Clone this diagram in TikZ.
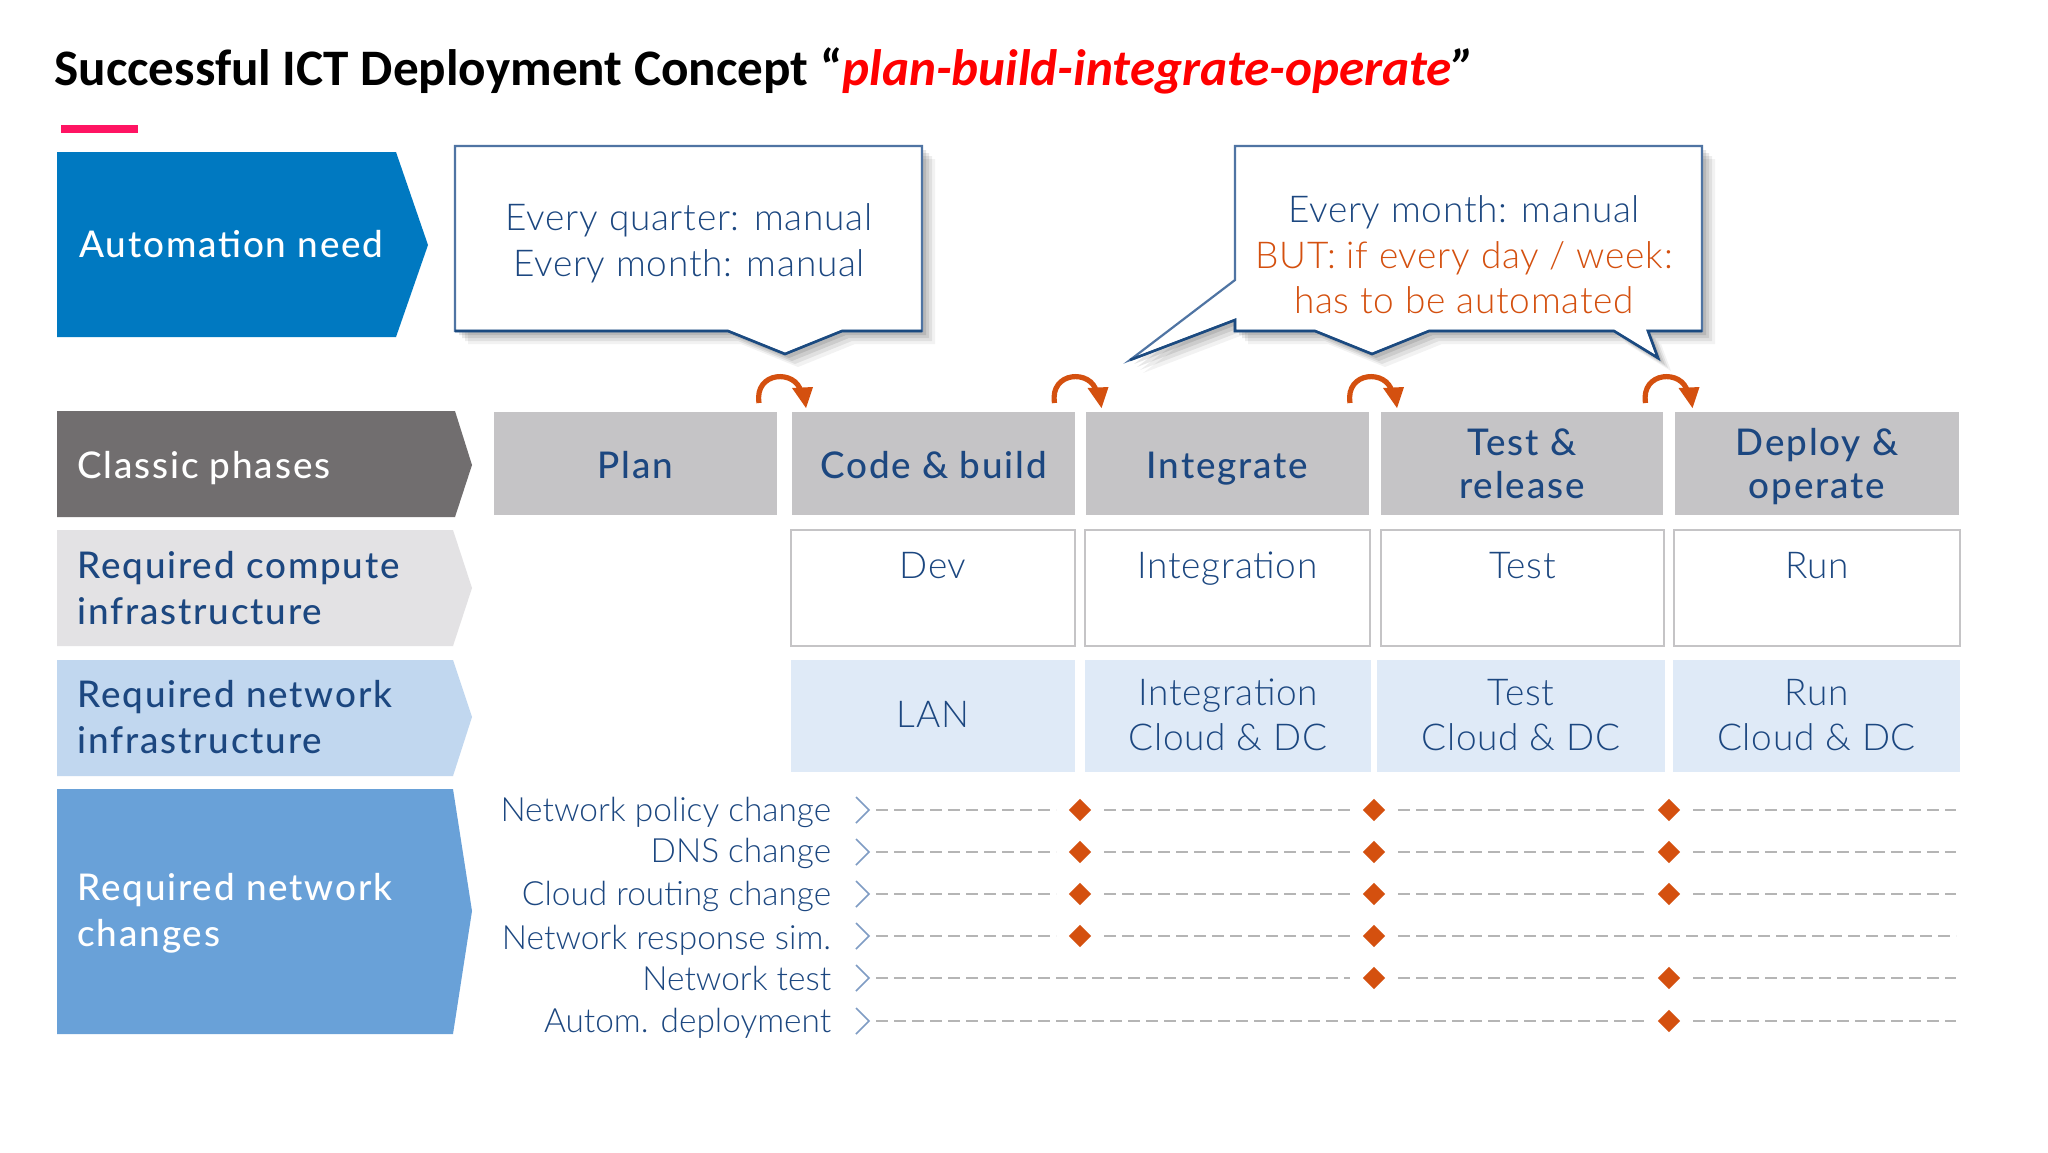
\documentclass[tikz,border=0pt]{standalone}
\usepackage{fontspec}
\usetikzlibrary{shapes.geometric}
\setmainfont{Lato}
\newfontfamily\titlef{Carlito}
\newfontfamily\lightf[LetterSpace=2]{Lato Light}
\newfontfamily\lightr{Lato Light}
\newfontfamily\medf[LetterSpace=5]{Lato Medium}
\definecolor{navy}{HTML}{1C4780}
\definecolor{autoc}{HTML}{0079C1}
\definecolor{classicc}{HTML}{716E6F}
\definecolor{compc}{HTML}{E3E2E4}
\definecolor{netc}{HTML}{C1D7EF}
\definecolor{chgc}{HTML}{69A1D8}
\definecolor{phasec}{HTML}{C5C4C6}
\definecolor{lightb}{HTML}{DFEAF7}
\definecolor{org}{HTML}{D4500F}
\definecolor{pinkbar}{HTML}{FF1463}
\definecolor{calloutc}{HTML}{4F74A3}
\definecolor{calloutd}{HTML}{1B4A80}
\definecolor{dashc}{HTML}{B5B5B5}
\definecolor{chevc}{HTML}{7F9CC4}
\tikzset{
 x=0.5pt,y=-0.5pt,
 lbl/.style={inner sep=0pt,anchor=base west,align=left,font=\medf\fontsize{18.4}{23}\selectfont,text=navy},
 lblw/.style={lbl,text=white},
 cell/.style={inner sep=0pt,anchor=base,align=center,font=\lightf\fontsize{18.5}{22.75}\selectfont,text=navy},
 cellm/.style={cell,font=\medf\fontsize{18.4}{21.5}\selectfont},
 rowl/.style={inner sep=0pt,anchor=base east,font=\lightr\fontsize{16.7}{20}\selectfont,text=navy},
 dia/.style={shape=diamond,aspect=1,fill=org,inner sep=0pt,minimum width=14.9pt,minimum height=14.9pt,outer sep=4.55pt},
 chev/.style={inner sep=0pt,minimum width=1pt,minimum height=1pt},
 dashline/.style={draw=dashc,line width=1pt,dash pattern=on 6pt off 3pt},
 cbord/.style={draw=calloutc,line width=1.1pt,line join=miter},
 cdark/.style={draw=calloutd,line width=1.3pt},
}
\begin{document}
\begin{tikzpicture}
\useasboundingbox (0,0) rectangle (2048,1152);
\fill[white] (0,0) rectangle (2048,1152);
% title
\node[inner sep=0pt,anchor=base west] (title) at (54,85) {\titlef\bfseries\fontsize{25.6}{30}\selectfont Successful ICT Deployment Concept “\textcolor{red}{\itshape plan-build-integrate-operate}{\itshape ”}};
\fill[pinkbar] (61,125) rectangle (138,133);
% left chevrons
\fill[autoc] (57,152) -- (396,152) -- (428,245) -- (396,337) -- (57,337) -- cycle;
\fill[classicc] (57,411) -- (455,411) -- (472,465) -- (455,517) -- (57,517) -- cycle;
\fill[compc] (57,530) -- (453,530) -- (472,588) -- (453,646) -- (57,646) -- cycle;
\fill[netc] (57,660) -- (453,660) -- (472,717) -- (453,776) -- (57,776) -- cycle;
\fill[chgc] (57,789) -- (453,789) -- (472,911) -- (453,1034) -- (57,1034) -- cycle;
\node[lblw] (lauto) at (79,257) {Automation need};
\node[lblw] (lclassic) at (77,478) {Classic phases};
\node[lbl] (lcomp) at (77,624) {Required compute\\infrastructure};
\node[lbl] (lnet) at (77,753) {Required network\\infrastructure};
\node[lblw] (lchg) at (77,946) {Required network\\changes};
% callout shadows
\foreach \d/\o in {4/.10,7/.09,10/.07,13/.05}{
 \fill[black,opacity=\o,shift={(\d,\d)}] (455,146) -- (922,146) -- (922,331) -- (842,331) -- (785,354) -- (728,331) -- (455,331) -- cycle;
 \fill[black,opacity=\o,shift={(\d,\d)}] (1235,146) -- (1702,146) -- (1702,331) -- (1648,331) -- (1658,358) -- (1614,331) -- (1429,331) -- (1372,354) -- (1315,331) -- (1235,331) -- (1235,320) -- (1130,360) -- (1235,280) -- cycle;
}
% callouts
\filldraw[fill=white,cbord] (455,146) -- (922,146) -- (922,331) -- (842,331) -- (785,354) -- (728,331) -- (455,331) -- cycle;
\draw[cdark] (455,331) -- (728,331) -- (785,354) -- (842,331) -- (922,331);
\filldraw[fill=white,cbord] (1235,146) -- (1702,146) -- (1702,331) -- (1648,331) -- (1658,358) -- (1614,331) -- (1429,331) -- (1372,354) -- (1315,331) -- (1235,331) -- (1235,320) -- (1130,360) -- (1235,280) -- cycle;
\draw[cdark] (1130,360) -- (1235,320) -- (1235,331) -- (1315,331) -- (1372,354) -- (1429,331) -- (1614,331) -- (1658,358) -- (1648,331) -- (1702,331);
\node[cell] (c1) at (689,276) {Every quarter: manual\\Every month: manual};
\node[cell] (c2) at (1464,313.5) {Every month: manual\\\textcolor{org}{BUT: if every day / week:}\\\textcolor{org}{has to be automated}};
% curved arrows
\foreach \x in {0,295.5,591,886.5}{
 \begin{scope}[xshift=\x*0.5pt]
 \draw[org,line width=2.6pt] (759,403) .. controls (754,371) and (796,369) .. (801,392);
 \fill[org] (792,388) -- (813,387) -- (806,408) -- cycle;
 \end{scope}
}
% phases
\foreach \n/\a/\b/\t/\yy in {plan/494/777/Plan/478,code/792/1075/Code \& build/478,integ/1086/1369/Integrate/478,test/1381/1663/Test \&\\release/498.5,depl/1675/1959/Deploy \&\\operate/498.5}{
 \fill[phasec] (\a,412) rectangle (\b,515);
 \node[cellm] (p\n) at ({(\a+\b)/2},\yy) {\t};
}
% compute
\foreach \n/\a/\b/\t in {dev/791/1075/Dev,inte/1085/1370/Integration,tst/1381/1664/Test,run/1674/1960/Run}{
 \draw[draw=phasec,line width=1pt] (\a,530) rectangle (\b,646);
 \node[cell] (i\n) at ({(\a+\b)/2},578) {\t};
}
% network
\foreach \n/\a/\b/\t/\yy in {lan/791/1075/LAN/727,inte/1085/1371/Integration\\Cloud \& DC/750.5,tst/1377/1665/Test\\Cloud \& DC/750.5,run/1673/1960/Run\\Cloud \& DC/750.5}{
 \fill[lightb] (\a,660) rectangle (\b,772);
 \node[cell] (n\n) at ({(\a+\b)/2},\yy) {\t};
}
% rows
\foreach \r/\t/\by/\yy/\lst in {
 a/Network policy change/821.5/810/{1080,1374,1669},
 b/DNS change/862.5/852/{1080,1374,1669},
 c/Cloud routing change/905/894/{1080,1374,1669},
 d/Network response sim./949/936/{1080,1374},
 e/Network test/990/978/{1374,1669},
 f/Autom. deployment/1032.5/1021/{1669}}{
 \node[rowl] (t\r) at (831.5,\by) {\t};
 \node[chev] (ch\r) at (869,\yy) {};
 \draw[draw=chevc,line width=.8pt] (856,\yy-13) -- (ch\r.center) -- (856,\yy+13);
 \coordinate (prev) at (876,\yy);
 \foreach \x in \lst{
  \node[dia] (d\r\x) at (\x,\yy) {};
  \draw[dashline] (prev) -- (d\r\x.west);
  \coordinate (prev) at (d\r\x.east);
 }
 \coordinate (end\r) at (1956,\yy);
 \draw[dashline] (prev) -- (end\r);
}
\end{tikzpicture}
\end{document}
